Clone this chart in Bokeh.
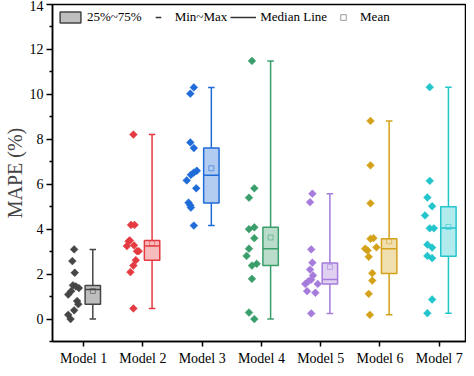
import numpy as np
from bokeh.plotting import figure
from bokeh.models import ColumnDataSource, Range1d, FixedTicker, Legend, LegendItem
from bokeh.embed import file_html
from bokeh.resources import INLINE

models = ["Model 1", "Model 2", "Model 3", "Model 4", "Model 5", "Model 6", "Model 7"]
colors = ["#454545", "#E33B41", "#1F6BD8", "#3A9E6A", "#A57BDB", "#D4A21A", "#22C5CC"]

# box statistics (MAPE %)
stat_min = [0.00, 0.47, 4.16, 0.00, 0.25, 0.19, 0.26]
stat_q1 = [0.66, 2.62, 5.16, 2.38, 1.56, 2.03, 2.80]
stat_median = [1.31, 3.25, 6.40, 3.13, 1.76, 3.13, 4.05]
stat_q3 = [1.49, 3.50, 7.61, 4.08, 2.49, 3.57, 5.00]
stat_max = [3.10, 8.21, 10.31, 11.49, 5.58, 8.82, 10.32]
stat_mean = [1.25, 3.38, 6.71, 3.63, 2.32, 3.46, 4.10]

# individual points
m1_values = [3.10, 2.58, 2.06, 1.50, 1.45, 1.38, 1.24, 1.09, 0.80, 0.66, 0.39, 0.19, 0.00]
m2_values = [8.21, 4.19, 4.19, 3.50, 3.46, 3.25, 3.28, 3.02, 3.02, 2.62, 2.38, 2.09, 0.47]
m3_values = [10.31, 10.03, 7.86, 7.61, 6.60, 6.52, 6.42, 6.17, 5.82, 5.18, 5.06, 4.96, 4.16]
m4_values = [11.49, 5.82, 5.40, 4.00, 4.08, 3.60, 3.13, 2.81, 2.38, 2.46, 1.79, 0.29, 0.00]
m5_values = [5.58, 5.20, 3.10, 2.51, 2.20, 1.94, 1.75, 1.68, 1.56, 1.56, 1.24, 1.17, 0.25]
m6_values = [8.82, 6.84, 5.15, 3.57, 3.60, 3.13, 3.05, 3.19, 2.77, 2.04, 1.71, 1.12, 0.19]
m7_values = [10.32, 6.15, 5.41, 5.02, 4.61, 4.04, 4.04, 3.31, 3.18, 2.81, 2.71, 0.87, 0.26]

# horizontal jitter of the points (category units)
m1_jitter = [-0.16, -0.19, -0.15, -0.18, -0.13, -0.08, -0.21, -0.26, -0.11, -0.09, -0.16, -0.26, -0.22]
m2_jitter = [-0.16, -0.20, -0.14, -0.22, -0.24, -0.27, -0.15, -0.10, -0.07, -0.12, -0.16, -0.21, -0.16]
m3_jitter = [-0.14, -0.20, -0.20, -0.14, -0.09, -0.14, -0.19, -0.26, -0.10, -0.23, -0.20, -0.19, -0.14]
m4_jitter = [-0.16, -0.12, -0.21, -0.21, -0.12, -0.12, -0.21, -0.25, -0.16, -0.08, -0.16, -0.21, -0.12]
m5_jitter = [-0.14, -0.18, -0.16, -0.14, -0.18, -0.13, -0.16, -0.21, -0.26, -0.05, -0.23, -0.09, -0.16]
m6_jitter = [-0.16, -0.16, -0.16, -0.16, -0.11, -0.25, -0.21, -0.06, -0.19, -0.13, -0.13, -0.19, -0.17]
m7_jitter = [-0.16, -0.16, -0.20, -0.12, -0.24, -0.16, -0.09, -0.20, -0.12, -0.20, -0.12, -0.12, -0.20]

all_values = [m1_values, m2_values, m3_values, m4_values, m5_values, m6_values, m7_values]
all_jitter = [m1_jitter, m2_jitter, m3_jitter, m4_jitter, m5_jitter, m6_jitter, m7_jitter]

FONT = "Liberation Serif"
BOX_OFF = 0.155
BOX_HALF = 0.13
CAP_HALF = 0.055

pos = np.arange(1, len(models) + 1)
xc = pos + BOX_OFF

p = figure(width=466, height=368, output_backend="svg", toolbar_location=None,
           x_range=Range1d(0.475, 7.46), y_range=Range1d(-1, 14),
           min_border_left=10, min_border_right=0, min_border_top=4, min_border_bottom=10)
p.xgrid.visible = False
p.ygrid.visible = False
p.outline_line_color = "black"
p.outline_line_width = 1.5
p.outline_line_alpha = 1.0
p.background_fill_color = "white"
p.border_fill_color = "white"

box_src = ColumnDataSource(dict(
    left=xc - BOX_HALF, right=xc + BOX_HALF, q1=stat_q1, q3=stat_q3,
    med=stat_median, mn=stat_min, mx=stat_max, mean=stat_mean, xc=xc,
    cl=xc - CAP_HALF, cr=xc + CAP_HALF, color=colors))

# whiskers
p.segment(x0="xc", x1="xc", y0="q3", y1="mx", line_color="color", line_width=1.5, source=box_src)
p.segment(x0="xc", x1="xc", y0="mn", y1="q1", line_color="color", line_width=1.5, source=box_src)
p.segment(x0="cl", x1="cr", y0="mx", y1="mx", line_color="color", line_width=1.5, source=box_src)
p.segment(x0="cl", x1="cr", y0="mn", y1="mn", line_color="color", line_width=1.5, source=box_src)
# boxes
box_r = p.quad(left="left", right="right", bottom="q1", top="q3", fill_color="color", fill_alpha=0.35,
               line_color="color", line_width=1.5, source=box_src)
# median
p.segment(x0="left", x1="right", y0="med", y1="med", line_color="color", line_width=1.5, source=box_src)
# mean
p.scatter(x="xc", y="mean", marker="square", size=5, fill_color=None, line_color="color",
          line_alpha=0.55, line_width=1, source=box_src)

# points
px, py, pc = [], [], []
for i, (vals, jit) in enumerate(zip(all_values, all_jitter)):
    for v, j in zip(vals, jit):
        px.append(pos[i] + j)
        py.append(v)
        pc.append(colors[i])
pt_src = ColumnDataSource(dict(x=px, y=py, color=pc))
p.scatter(x="x", y="y", marker="square", angle=np.pi / 4, size=5.5, fill_color="color",
          line_color="color", line_width=0.5, source=pt_src)

# legend helper renderers (NaN -> nothing drawn in the plot)
nan_src = ColumnDataSource(dict(x=[np.nan], y=[np.nan]))
r_minmax = p.scatter(x="x", y="y", marker="dash", angle=np.pi / 2, size=13, line_color="#333333",
                     line_width=1.5, source=nan_src)
r_median = p.line(x="x", y="y", line_color="#333333", line_width=1.5, source=nan_src)
r_mean = p.scatter(x="x", y="y", marker="square", size=5, fill_color=None, line_color="#999999",
                   line_width=1, source=nan_src)

legend = Legend(items=[
    LegendItem(label="25%~75%", renderers=[box_r], index=0),
    LegendItem(label="Min~Max", renderers=[r_minmax]),
    LegendItem(label="Median Line", renderers=[r_median]),
    LegendItem(label="Mean", renderers=[r_mean]),
], orientation="horizontal", location="top_left")
legend.label_text_font = FONT
legend.label_text_font_style = "normal"
legend.label_text_font_size = "13px"
legend.label_text_color = "black"
legend.label_standoff = 4
legend.spacing = 3
legend.glyph_width = 26
legend.glyph_height = 14
legend.padding = 2
legend.margin = 3
legend.background_fill_alpha = 0
legend.border_line_alpha = 0
p.add_layout(legend)

# axes
xax = p.xaxis[0]
yax = p.yaxis[0]
xax.ticker = FixedTicker(ticks=list(pos))
xax.major_label_overrides = {int(k): m for k, m in zip(pos, models)}
xax.minor_tick_line_color = None
xax.major_tick_out = 5
xax.major_tick_in = 0
xax.major_label_standoff = 4

yax.ticker = FixedTicker(ticks=[0, 2, 4, 6, 8, 10, 12, 14],
                         minor_ticks=[-1, 1, 3, 5, 7, 9, 11, 13])
yax.major_tick_out = 6
yax.major_tick_in = 0
yax.minor_tick_out = 3
yax.minor_tick_in = 0
yax.axis_label = "MAPE (%)"
yax.axis_label_text_font = FONT
yax.axis_label_text_font_size = "20px"
yax.axis_label_text_font_style = "normal"
yax.axis_label_standoff = 1
yax.major_label_standoff = 3

for ax in (xax, yax):
    ax.axis_line_color = "black"
    ax.axis_line_width = 1.5
    ax.major_tick_line_color = "black"
    ax.major_tick_line_width = 1.5
    ax.minor_tick_line_width = 1.5
    ax.major_label_text_font = FONT
    ax.major_label_text_font_style = "normal"
    ax.major_label_text_font_size = "14px"
    ax.major_label_text_color = "black"

open("out.html", "w").write(file_html(p, INLINE))
